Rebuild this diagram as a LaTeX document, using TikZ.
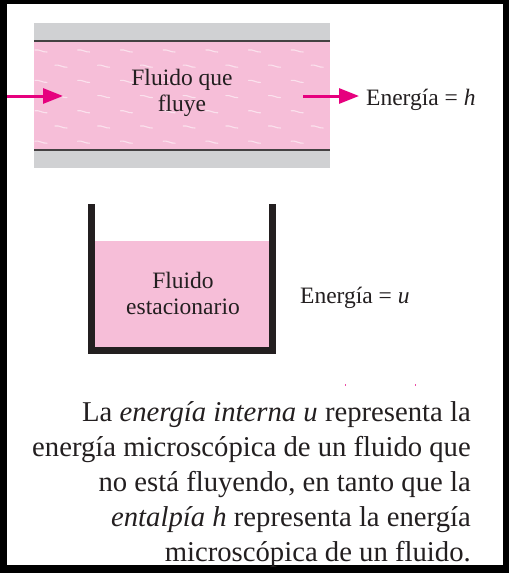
\documentclass[tikz,border=0pt]{standalone}
\usepackage{fontspec}
\setmainfont{Liberation Serif}
\usetikzlibrary{arrows.meta}
\definecolor{fpink}{RGB}{246,190,216}
\definecolor{fgray}{RGB}{208,209,211}
\definecolor{fmag}{RGB}{230,0,126}
\definecolor{fink}{RGB}{35,31,32}
\tikzset{
  lbl/.style={text=fink, font=\fontsize{23.5}{26}\selectfont, inner sep=0pt},
  para/.style={text=fink, font=\fontsize{28.7}{35}\selectfont, inner sep=0pt, align=right},
  flowarrow/.style={draw=fmag, line width=3pt, -{Triangle[length=20pt,width=15pt]}},
  streak/.style={draw=white, opacity=0.55, line width=1.1pt, line cap=round},
  wall/.style={draw=fink, line width=7pt, line join=miter},
}
\begin{document}
\begin{tikzpicture}[x=1pt,y=-1pt]
\useasboundingbox (0,0) rectangle (509,573);
% frame
\fill[black] (0,0) rectangle (509,573);
\fill[white] (7,4) rectangle (503,565);
% pipe
\fill[fgray] (34,23) rectangle (330,168);
\fill[fpink] (34,41) rectangle (330,150);
\draw[fink!85, line width=1.3pt] (34,41) -- (330,41);
\draw[fink!85, line width=1.3pt] (34,150) -- (330,150);
% streaks
\begin{scope}
\clip (34,42) rectangle (330,149);
\foreach \r in {0,...,6}{
  \pgfmathsetmacro{\yy}{51+15.2*\r}
  \pgfmathsetmacro{\off}{mod(\r,2)==0 ? 41 : 61}
  \foreach \k in {0,...,7}{
    \pgfmathsetmacro{\xx}{\off+42.7*\k}
    \draw[streak] (\xx-6,\yy-1) .. controls (\xx-2,\yy-2) and (\xx+2,\yy+1.5) .. (\xx+6,\yy+1);
  }
}
\end{scope}
\node[lbl, align=center] (flow) at (182,93) {Fluido que\\fluye};
% arrows
\coordinate (inA) at (7,96);
\coordinate (inB) at (63,96);
\coordinate (outA) at (303,96);
\coordinate (outB) at (359,96);
\draw[flowarrow] (inA) -- (inB);
\draw[flowarrow] (outA) -- (outB);
\node[lbl, anchor=base west] (eh) at (366,105) {Energía = \textit{h}};
% container
\fill[fpink] (95,241) rectangle (269,347);
\draw[wall] (91.5,204) -- (91.5,350) -- (272.5,350) -- (272.5,204);
\node[lbl, align=center] (stat) at (183,293) {Fluido\\estacionario};
\node[lbl, anchor=base west] (eu) at (300,303) {Energía = \textit{u}};
% tiny marks
\fill[fmag!70] (344.5,384) rectangle (346,385.5);
\fill[fmag!70] (414.5,384) rectangle (416,385.5);
% paragraph
\node[para, anchor=north east] (txt) at (471,401) {La \textit{energía interna u} representa la\\energía microscópica de un fluido que\\no está fluyendo, en tanto que la\\\textit{entalpía h} representa la energía\\microscópica de un fluido.};
\end{tikzpicture}
\end{document}
